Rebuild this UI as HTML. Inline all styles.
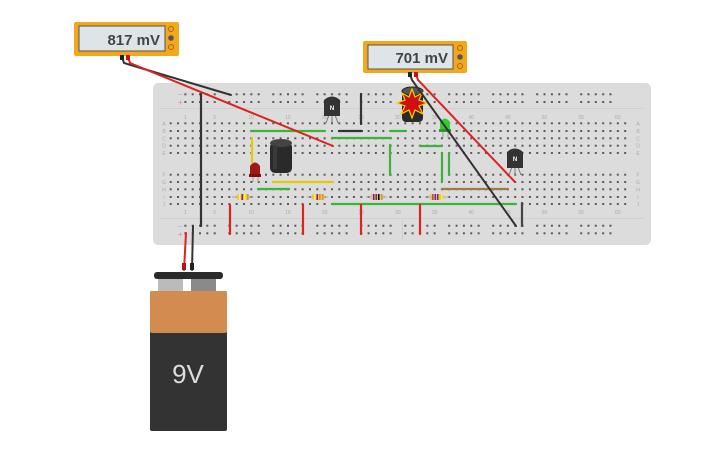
<!DOCTYPE html>
<html><head><meta charset="utf-8"><style>
html,body{margin:0;padding:0;background:#fff;width:725px;height:453px;overflow:hidden}
svg{display:block;font-family:"Liberation Sans",sans-serif}
</style></head><body>
<svg id="s" width="725" height="453" viewBox="0 0 725 453" xmlns="http://www.w3.org/2000/svg">
<rect x="153" y="83" width="498" height="162" rx="5" fill="#dcdcdc"/>
<line x1="160" y1="108.5" x2="643" y2="108.5" stroke="#cfcfcf" stroke-width="1"/>
<line x1="160" y1="218.5" x2="643" y2="218.5" stroke="#cfcfcf" stroke-width="1"/>
<line x1="402.5" y1="220" x2="402.5" y2="240" stroke="#cfcfcf" stroke-width="1"/>
<g id="holes" fill="#5a5a5a"></g>
<g id="labels" font-size="5" fill="#aaa"></g>
<text x="178" y="97" font-size="8" fill="#8fb3d9">−</text>
<text x="178" y="105" font-size="8" fill="#e88">+</text>
<text x="178" y="229" font-size="8" fill="#8fb3d9">−</text>
<text x="178" y="237" font-size="8" fill="#e88">+</text>

<g stroke-width="2.2" stroke-linecap="round" fill="none">
<line x1="201" y1="94" x2="201" y2="226" stroke="#333"/>
<line x1="361" y1="94" x2="361" y2="124" stroke="#333"/>
<line x1="339" y1="131" x2="362" y2="131" stroke="#333"/>
<line x1="522" y1="203" x2="522" y2="226" stroke="#444"/>
<line x1="251" y1="131" x2="325" y2="131" stroke="#3cb43c"/>
<line x1="390" y1="131" x2="406" y2="131" stroke="#3cb43c"/>
<line x1="332" y1="138" x2="391" y2="138" stroke="#3cb43c"/>
<line x1="390" y1="145" x2="390" y2="175" stroke="#3cb43c"/>
<line x1="420" y1="146" x2="442" y2="146" stroke="#3cb43c"/>
<line x1="442" y1="153" x2="442" y2="182" stroke="#3cb43c"/>
<line x1="449" y1="153" x2="449" y2="175" stroke="#3cb43c"/>
<line x1="258" y1="189" x2="289" y2="189" stroke="#3cb43c"/>
<line x1="332" y1="204" x2="516" y2="204" stroke="#3cb43c"/>
<line x1="252" y1="138" x2="252" y2="162" stroke="#e8c800"/>
<line x1="273" y1="182" x2="333" y2="182" stroke="#e8c800"/>
<line x1="442" y1="189" x2="508" y2="189" stroke="#a07850"/>
<line x1="230" y1="205" x2="230" y2="234" stroke="#d22"/>
<line x1="303" y1="205" x2="303" y2="234" stroke="#d22"/>
<line x1="361" y1="205" x2="361" y2="234" stroke="#d22"/>
<line x1="420" y1="205" x2="420" y2="234" stroke="#d22"/>
</g>

<g>
<g transform="translate(232,197)"><line x1="0" y1="0" x2="22" y2="0" stroke="#aaa" stroke-width="1"/><rect x="4" y="-3" width="14" height="6" rx="3" fill="#e0c080"/><rect x="7" y="-3" width="1.5" height="6" fill="#ff0"/><rect x="9.5" y="-3" width="1.5" height="6" fill="#802080"/><rect x="12" y="-3" width="1.5" height="6" fill="#ff0"/><rect x="15" y="-3" width="1.5" height="6" fill="#c9a030"/></g>
<g transform="translate(307,197)"><line x1="0" y1="0" x2="21" y2="0" stroke="#aaa" stroke-width="1"/><rect x="4" y="-3" width="14" height="6" rx="3" fill="#e0c080"/><rect x="7" y="-3" width="1.5" height="6" fill="#ff0"/><rect x="9.5" y="-3" width="1.5" height="6" fill="#802080"/><rect x="12" y="-3" width="1.5" height="6" fill="#f80"/><rect x="15" y="-3" width="1.5" height="6" fill="#c9a030"/></g>
<g transform="translate(366,197)"><line x1="0" y1="0" x2="21" y2="0" stroke="#aaa" stroke-width="1"/><rect x="4" y="-3" width="14" height="6" rx="3" fill="#e0c080"/><rect x="7" y="-3" width="1.5" height="6" fill="#802080"/><rect x="9.5" y="-3" width="1.5" height="6" fill="#802080"/><rect x="12" y="-3" width="1.5" height="6" fill="#000"/><rect x="15" y="-3" width="1.5" height="6" fill="#c9a030"/></g>
<g transform="translate(425,197)"><line x1="0" y1="0" x2="24" y2="0" stroke="#aaa" stroke-width="1"/><rect x="4" y="-3" width="15" height="6" rx="3" fill="#e0c080"/><rect x="7" y="-3" width="1.5" height="6" fill="#a05a2c"/><rect x="9.5" y="-3" width="1.5" height="6" fill="#802080"/><rect x="12" y="-3" width="1.5" height="6" fill="#802080"/><rect x="16" y="-3" width="1.5" height="6" fill="#ff0"/></g>
</g>

<g>
<g stroke="#777" stroke-width="1"><line x1="329" y1="115" x2="326" y2="123"/><line x1="332" y1="115" x2="332" y2="123"/><line x1="335" y1="115" x2="338" y2="123"/></g>
<path d="M324 100 Q332 93 340 100 L340 116 L324 116 Z" fill="#333"/>
<text x="332" y="110" font-size="6" fill="#fff" text-anchor="middle" font-weight="bold">N</text>
<g stroke="#777" stroke-width="1"><line x1="512" y1="167" x2="509" y2="175"/><line x1="515" y1="167" x2="515" y2="175"/><line x1="518" y1="167" x2="521" y2="175"/></g>
<path d="M507 152 Q515 145 523 152 L523 168 L507 168 Z" fill="#333"/>
<text x="515" y="161" font-size="6" fill="#fff" text-anchor="middle" font-weight="bold">N</text>
</g>

<rect x="270" y="142" width="22" height="31" rx="5" fill="#2a2a2a"/>
<ellipse cx="281" cy="143" rx="11" ry="4" fill="#444"/>
<rect x="273" y="145" width="4" height="24" fill="#3a3a3a"/>

<g stroke="#999" stroke-width="1"><line x1="253" y1="176" x2="253" y2="182"/><line x1="258" y1="176" x2="258" y2="182"/></g>
<path d="M250 177 L250 166 Q255 159 260 166 L260 177 Z" fill="#a01818"/>
<rect x="249" y="174" width="12" height="3" fill="#801010"/>

<g stroke="#999" stroke-width="1"><line x1="443" y1="132" x2="443" y2="138"/><line x1="448" y1="132" x2="448" y2="138"/></g>
<path d="M440 132 L440 122 Q445 115 450 122 L450 132 Z" fill="#3c3"/>
<rect x="439" y="129" width="12" height="3" fill="#2a9a2a"/>

<rect x="402" y="91" width="21" height="31" rx="4" fill="#2a2a2a"/>
<ellipse cx="412.5" cy="91" rx="10.5" ry="4" fill="#555" stroke="#222"/>
<polygon points="412,89 415,97 422,93 419,100 427,103 419,106 423,114 415,110 412,118 409,110 401,114 405,106 397,103 405,100 402,93 409,97" fill="#d01010" stroke="#f5d000" stroke-width="1.2"/>

<rect x="74" y="22" width="105" height="34" rx="2" fill="#f2a81d"/>
<rect x="79" y="26" width="86" height="25" fill="#dde5e8" stroke="#555" stroke-width="1"/>
<text x="160" y="45" font-size="15" font-weight="bold" fill="#444" text-anchor="end">817 mV</text>
<circle cx="171" cy="29" r="2.5" fill="none" stroke="#a06a10"/><circle cx="171" cy="38" r="2.8" fill="#555"/><circle cx="171" cy="47" r="2.5" fill="none" stroke="#a06a10"/>
<rect x="363" y="41" width="104" height="32" rx="2" fill="#f2a81d"/>
<rect x="368" y="45" width="85" height="24" fill="#dde5e8" stroke="#555" stroke-width="1"/>
<text x="448" y="63" font-size="15" font-weight="bold" fill="#444" text-anchor="end">701 mV</text>
<circle cx="460" cy="48" r="2.5" fill="none" stroke="#a06a10"/><circle cx="460" cy="57" r="2.8" fill="#555"/><circle cx="460" cy="66" r="2.5" fill="none" stroke="#a06a10"/>

<g stroke-width="2" stroke-linecap="round" fill="none">
<path d="M122 57 L124 63 L231 95" stroke="#333"/>
<path d="M128 57 L130 63 L333 146" stroke="#d22"/>
<path d="M410 74 L412 80 L516 226" stroke="#333"/>
<path d="M416 74 L418 80 L515 182" stroke="#d22"/>
<path d="M184 270 L186 233" stroke="#d22"/>
<path d="M192 270 L193 226" stroke="#333"/>
</g>
<rect x="120" y="55" width="4" height="5" fill="#222"/><rect x="126" y="55" width="4" height="5" fill="#c11"/>
<rect x="408" y="72" width="4" height="5" fill="#222"/><rect x="414" y="72" width="4" height="5" fill="#c11"/>
<rect x="182" y="263" width="4" height="7" fill="#b11"/><rect x="190" y="263" width="4" height="7" fill="#222"/>

<rect x="158" y="278" width="25" height="14" fill="#bbb"/>
<rect x="191" y="278" width="25" height="14" fill="#8a8a8a"/>
<rect x="154" y="272" width="69" height="7" rx="3" fill="#2a2a2a"/>
<rect x="150" y="291" width="77" height="140" rx="2" fill="#333"/>
<rect x="150" y="291" width="77" height="42" rx="2" fill="#d28c50"/>
<text x="188" y="383" font-size="26" fill="#ddd" text-anchor="middle">9V</text>
</svg>
<script>
var ns="http://www.w3.org/2000/svg",h=document.getElementById("holes"),L=document.getElementById("labels");
function d(x,y){var r=document.createElementNS(ns,"rect");r.setAttribute("x",(x-1).toFixed(1));r.setAttribute("y",(y-1).toFixed(1));r.setAttribute("width","2");r.setAttribute("height","2");h.appendChild(r);}
function t(x,y,s,a){var e=document.createElementNS(ns,"text");e.setAttribute("x",x);e.setAttribute("y",y);e.setAttribute("text-anchor",a||"middle");e.textContent=s;L.appendChild(e);}
var p=7.33,x0=170.7;
var rows=[123.3,131,138.3,145.7,153,174.7,182,189.3,197,204];
for(var r=0;r<10;r++)for(var c=0;c<63;c++)d(x0+c*p,rows[r]);
var rails=[94.3,102,225.7,233.3];
for(var r=0;r<4;r++)for(var g=0;g<10;g++)for(var k=0;k<5;k++)d(x0+2*p+(g*6+k)*p,rails[r]);
var lt="ABCDEFGHIJ";
for(var r=0;r<10;r++){t(164,rows[r]+2,lt[r]);t(638,rows[r]+2,lt[r]);}
var ns2=[1,5,10,15,20,25,30,35,40,45,50,55,60];
for(var i=0;i<ns2.length;i++){var x=x0+(ns2[i]+1)*p;t(x.toFixed(1),119,ns2[i]);t(x.toFixed(1),214,ns2[i]);}
</script>
</body></html>
